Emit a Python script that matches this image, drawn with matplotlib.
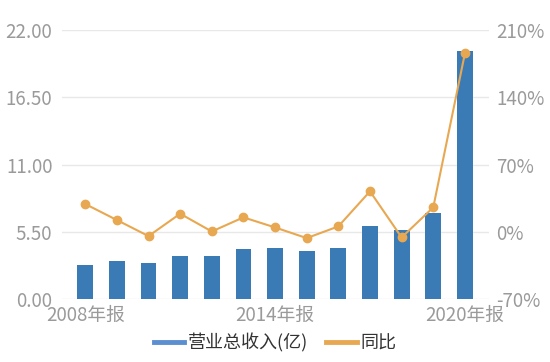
import matplotlib
matplotlib.use("Agg")
import matplotlib.pyplot as plt
from matplotlib.lines import Line2D

plt.rcParams['font.family'] = ['Noto Sans CJK SC', 'DejaVu Sans']

# data
years = ["2008年报", "2009年报", "2010年报", "2011年报", "2012年报", "2013年报", "2014年报",
         "2015年报", "2016年报", "2017年报", "2018年报", "2019年报", "2020年报"]
revenue = [2.77, 3.12, 2.98, 3.50, 3.52, 4.05, 4.21, 3.94, 4.19, 5.97, 5.61, 7.06, 20.25]
yoy = [28.9, 12.2, -4.5, 18.8, 0.3, 15.0, 4.5, -6.6, 5.6, 42.1, -5.9, 25.4, 185.7]
left_ticks = [0, 5.5, 11, 16.5, 22]
right_ticks = [-70, 0, 70, 140, 210]
shown_labels = {0: "2008年报", 6: "2014年报", 12: "2020年报"}

bar_color = "#3b7bb5"
line_color = "#e8a852"
tick_color = "#9a9a9a"

fig = plt.figure(figsize=(5.5, 3.62), dpi=100)
ax = fig.add_axes([0.113, 0.174, 0.776, 0.743])
x = list(range(len(years)))
ax.bar(x, revenue, width=0.5, color=bar_color, zorder=2)
ax.set_ylim(0, 22)
ax.set_yticks(left_ticks)
ax.set_yticklabels(["%.2f" % v for v in left_ticks])
ax.set_xlim(-0.73, 12.76)
ax.set_xticks(list(shown_labels.keys()))
ax.set_xticklabels(list(shown_labels.values()))
ax.grid(axis="y", color="#e8e8e8", linewidth=1, zorder=0)
ax.tick_params(axis="y", length=0, pad=7, labelsize=13.5, labelcolor=tick_color)
ax.tick_params(axis="x", length=0, pad=4, labelsize=13.5, labelcolor=tick_color)
for s in ax.spines.values():
    s.set_visible(False)

ax2 = ax.twinx()
ax2.plot(x, yoy, color=line_color, linewidth=1.5, marker="o", markersize=6, zorder=3)
ax2.set_ylim(-70, 210)
ax2.set_yticks(right_ticks)
ax2.set_yticklabels(["%d%%" % v for v in right_ticks])
ax2.tick_params(axis="y", length=0, pad=5, labelsize=13.5, labelcolor=tick_color)
for s in ax2.spines.values():
    s.set_visible(False)

handles = [Line2D([0], [0], color="#5b8fd0", linewidth=3.5),
           Line2D([0], [0], color=line_color, linewidth=3.5)]
fig.legend(handles, ["营业总收入(亿)", "同比"], loc="center", bbox_to_anchor=(0.5, 0.052),
           ncol=2, frameon=False, fontsize=13, handlelength=1.7, handletextpad=0.2,
           columnspacing=1.0, labelcolor="#333333")

fig.savefig("out.png", dpi=100, facecolor="white")
